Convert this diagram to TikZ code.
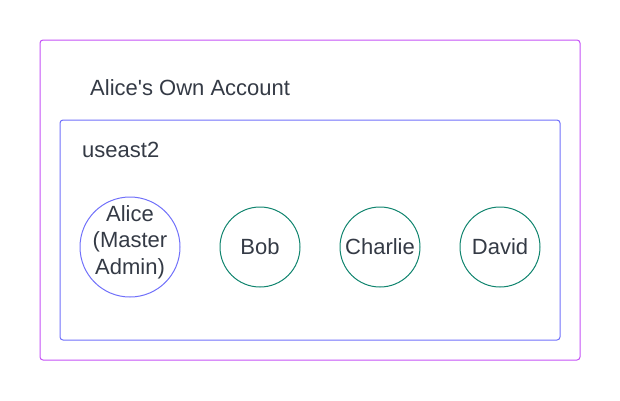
\documentclass[tikz,border=0pt]{standalone}
\usepackage{fontspec}
\setmainfont{Liberation Sans}
\definecolor{acctcol}{RGB}{196,82,246}
\definecolor{regioncol}{RGB}{112,112,250}
\definecolor{usercol}{RGB}{16,132,110}
\definecolor{txtcol}{RGB}{52,58,69}
\tikzset{
  box/.style={rectangle,draw,rounded corners=3pt,line width=1pt,inner sep=0pt},
  user/.style={circle,draw=usercol,line width=1pt,inner sep=0pt,minimum size=80pt,text=txtcol},
  boxtitle/.style={anchor=west,text=txtcol,inner sep=0pt}
}
\begin{document}
\begin{tikzpicture}[x=1pt,y=-1pt,font=\fontsize{22}{26.5}\selectfont]
\useasboundingbox (0,0) rectangle (620,400);
\node (acct) [box,draw=acctcol,minimum width=540pt,minimum height=320pt] at (310,200) {};
\node (region) [box,draw=regioncol,minimum width=500pt,minimum height=220pt] at (310,230) {};
\node (acctlbl) [boxtitle] at (90,88) {Alice\textquotesingle s Own Account};
\node (regionlbl) [boxtitle] at (82,150) {useast2};

\node (alice) [user,draw=regioncol,minimum size=100pt,
  label={[align=center,text=txtcol,yshift=5pt]center:Alice\\(Master\\Admin)}] at (130,247) {};
\node (bob) [user] at (260,247) {Bob};
\node (charlie) [user] at (380,247) {Charlie};
\node (david) [user] at (500,247) {David};
\end{tikzpicture}
\end{document}
